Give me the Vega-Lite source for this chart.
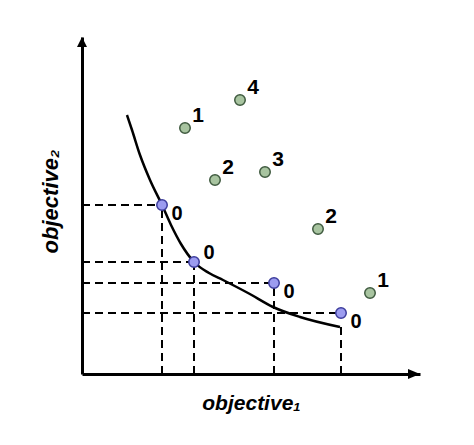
{
  "$schema": "https://vega.github.io/schema/vega-lite/v6.json",
  "width": 338,
  "height": 337,
  "autosize": {"type": "none"},
  "padding": {"left": 82, "top": 37, "right": 54, "bottom": 71},
  "background": "white",
  "config": {"view": {"stroke": null}, "font": "Liberation Sans"},
  "datasets": {
    "dash": [
      {"x": 0, "y": 169, "x2": 80, "y2": 169},
      {"x": 0, "y": 112, "x2": 112, "y2": 112},
      {"x": 0, "y": 91, "x2": 192, "y2": 91},
      {"x": 0, "y": 61, "x2": 259, "y2": 61},
      {"x": 80, "y": 0, "x2": 80, "y2": 169},
      {"x": 112, "y": 0, "x2": 112, "y2": 112},
      {"x": 192, "y": 0, "x2": 192, "y2": 91},
      {"x": 259, "y": 0, "x2": 259, "y2": 47}
    ],
    "curve": [
      {"x": 45, "y": 259}, {"x": 50, "y": 244}, {"x": 58, "y": 219},
      {"x": 68, "y": 194}, {"x": 80, "y": 169}, {"x": 89, "y": 149},
      {"x": 99, "y": 130}, {"x": 112, "y": 112}, {"x": 127, "y": 101},
      {"x": 141, "y": 94}, {"x": 166, "y": 81}, {"x": 191, "y": 67},
      {"x": 218, "y": 57}, {"x": 258, "y": 47}
    ],
    "pts": [
      {"x": 80, "y": 169, "kind": "front", "lab": "0", "pos": "below"},
      {"x": 112, "y": 112, "kind": "front", "lab": "0", "pos": "above"},
      {"x": 192, "y": 91, "kind": "front", "lab": "0", "pos": "below"},
      {"x": 259, "y": 61, "kind": "front", "lab": "0", "pos": "below"},
      {"x": 103, "y": 246, "kind": "dominated", "lab": "1", "pos": "above"},
      {"x": 158, "y": 274, "kind": "dominated", "lab": "4", "pos": "above"},
      {"x": 133, "y": 194, "kind": "dominated", "lab": "2", "pos": "above"},
      {"x": 183, "y": 202, "kind": "dominated", "lab": "3", "pos": "above"},
      {"x": 236, "y": 145, "kind": "dominated", "lab": "2", "pos": "above"},
      {"x": 288, "y": 81, "kind": "dominated", "lab": "1", "pos": "above"}
    ],
    "arrows": [
      {"x": 0, "y": 337, "dir": "up"},
      {"x": 338, "y": 0, "dir": "right"}
    ]
  },
  "encoding": {
    "x": {
      "field": "x", "type": "quantitative",
      "scale": {"domain": [0, 338], "nice": false, "zero": false},
      "axis": {
        "domain": true, "domainColor": "black", "domainWidth": 3,
        "ticks": false, "labels": false, "grid": false,
        "title": "objective₁", "titleFont": "Liberation Sans", "titleFontSize": 21,
        "titleFontWeight": "bold", "titleFontStyle": "italic", "titleColor": "black",
        "titleX": 169, "titleY": 35, "titleBaseline": "alphabetic", "titleAlign": "center"
      }
    },
    "y": {
      "field": "y", "type": "quantitative",
      "scale": {"domain": [0, 337], "nice": false, "zero": false},
      "axis": {
        "domain": true, "domainColor": "black", "domainWidth": 3,
        "ticks": false, "labels": false, "grid": false,
        "title": "objective₂", "titleFont": "Liberation Sans", "titleFontSize": 22,
        "titleFontWeight": "bold", "titleFontStyle": "italic", "titleColor": "black",
        "titleX": -25, "titleY": 164, "titleAngle": 270, "titleBaseline": "alphabetic", "titleAlign": "center"
      }
    }
  },
  "layer": [
    {
      "data": {"name": "dash"},
      "mark": {"type": "rule", "color": "black", "strokeWidth": 2, "strokeDash": [8, 5]},
      "encoding": {"x2": {"field": "x2"}, "y2": {"field": "y2"}}
    },
    {
      "data": {"name": "curve"},
      "mark": {"type": "line", "color": "black", "strokeWidth": 2.5, "interpolate": "monotone"},
      "encoding": {"order": {"field": "x", "type": "quantitative"}}
    },
    {
      "data": {"name": "pts"},
      "mark": {"type": "point", "filled": true, "size": 110, "strokeWidth": 1.5, "opacity": 1},
      "encoding": {
        "fill": {"field": "kind", "type": "nominal", "scale": {"domain": ["front", "dominated"], "range": ["#9c9cf0", "#a8c4a0"]}, "legend": null},
        "stroke": {"field": "kind", "type": "nominal", "scale": {"domain": ["front", "dominated"], "range": ["#3c3c9c", "#3f5a3f"]}, "legend": null}
      }
    },
    {
      "data": {"name": "pts"},
      "transform": [{"filter": "datum.kind === 'dominated'"}],
      "mark": {"type": "text", "font": "Liberation Sans", "fontSize": 21, "fontWeight": "bold", "color": "black", "dx": 13, "dy": -12, "align": "center", "baseline": "middle"},
      "encoding": {"text": {"field": "lab"}}
    },
    {
      "data": {"name": "pts"},
      "transform": [{"filter": "datum.kind === 'front' && datum.pos === 'below'"}],
      "mark": {"type": "text", "font": "Liberation Sans", "fontSize": 20, "fontWeight": "bold", "color": "black", "dx": 15, "dy": 9, "align": "center", "baseline": "middle"},
      "encoding": {"text": {"field": "lab"}}
    },
    {
      "data": {"name": "pts"},
      "transform": [{"filter": "datum.kind === 'front' && datum.pos === 'above'"}],
      "mark": {"type": "text", "font": "Liberation Sans", "fontSize": 20, "fontWeight": "bold", "color": "black", "dx": 15, "dy": -9, "align": "center", "baseline": "middle"},
      "encoding": {"text": {"field": "lab"}}
    },
    {
      "data": {"name": "arrows"},
      "transform": [{"filter": "datum.dir === 'up'"}],
      "mark": {"type": "point", "shape": "M0,0L-1,2L1,2Z", "size": 100, "filled": true, "color": "black", "opacity": 1}
    },
    {
      "data": {"name": "arrows"},
      "transform": [{"filter": "datum.dir === 'right'"}],
      "mark": {"type": "point", "shape": "M0,0L-2.4,-1L-2.4,1Z", "size": 100, "filled": true, "color": "black", "opacity": 1}
    }
  ]
}
